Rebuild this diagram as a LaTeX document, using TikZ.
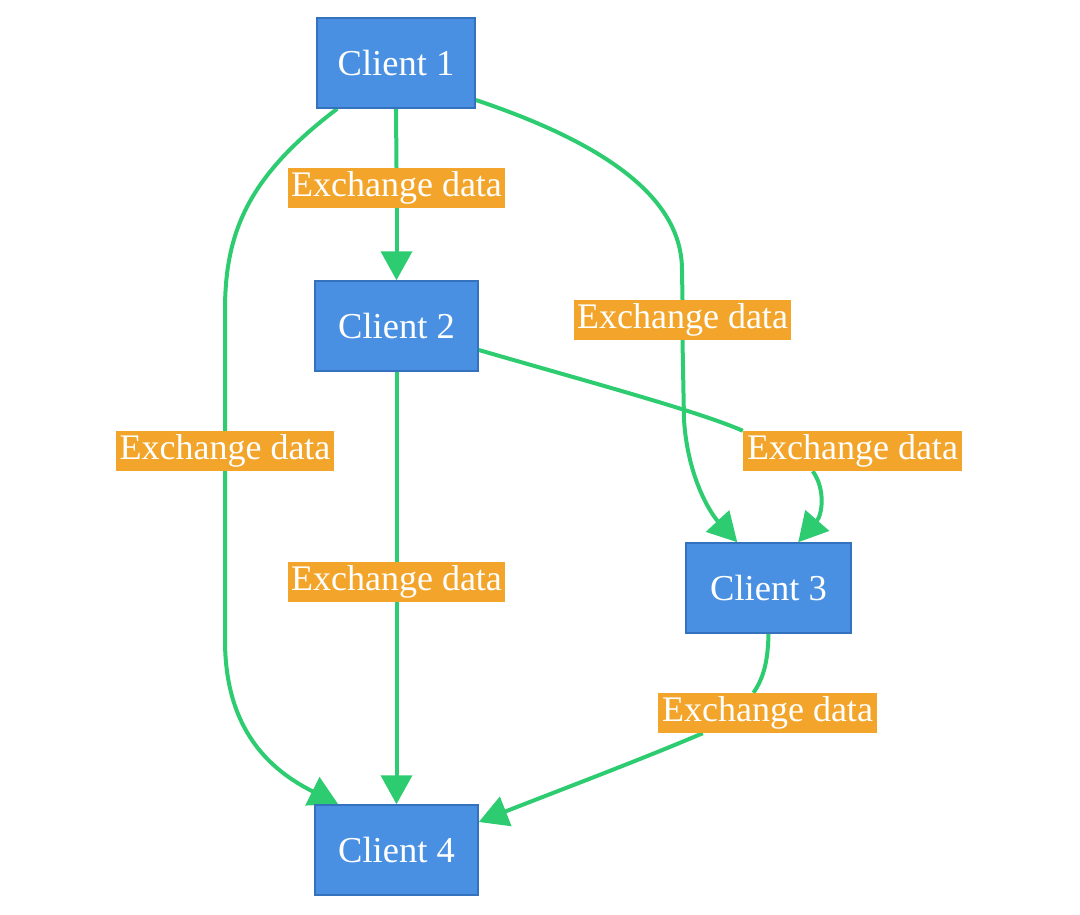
\documentclass[tikz,border=0pt]{standalone}
\usepackage{fontspec}
\setmainfont{Liberation Serif}
\usetikzlibrary{arrows.meta,calc}
\definecolor{boxblue}{HTML}{4A90E2}
\definecolor{boxedge}{HTML}{3572BD}
\definecolor{lblorange}{HTML}{F2A52A}
\definecolor{edgegreen}{HTML}{2ECC71}
\pgfdeclarelayer{bg}\pgfsetlayers{bg,main}
\begin{document}
\begin{tikzpicture}[x=1pt,y=-1pt,
  client/.style={draw=boxedge,line width=1.5pt,fill=boxblue,text=white,inner sep=0pt,
     minimum height=90pt,font=\fontsize{36.5}{40}\selectfont},
  lbl/.style={fill=lblorange,text=white,inner sep=0pt,minimum height=40pt,
     font=\fontsize{36}{40}\selectfont},
  conn/.style={draw=edgegreen,line width=4pt},
  arr/.style={conn,-{Triangle[length=29pt,width=31pt]}}]
\useasboundingbox (0,0) rectangle (1080,915);
% clients
\node[client,minimum width=158pt] (c1) at (396,63) {Client 1};
\node[client,minimum width=163pt] (c2) at (396.5,326) {Client 2};
\node[client,minimum width=165pt] (c3) at (768.5,588) {Client 3};
\node[client,minimum width=163pt] (c4) at (396.5,850) {Client 4};
% labels
\node[lbl,minimum width=217pt] (l12) at (396.5,188) {Exchange data};
\node[lbl,minimum width=217pt] (l13) at (682.5,320) {Exchange data};
\node[lbl,minimum width=218pt] (l14) at (225,451) {Exchange data};
\node[lbl,minimum width=217pt] (l24) at (396.5,582) {Exchange data};
\node[lbl,minimum width=219pt] (l23) at (852.5,451) {Exchange data};
\node[lbl,minimum width=219pt] (l34) at (767.5,713) {Exchange data};
% connectors (behind labels)
\begin{pgfonlayer}{bg}
% 1 -> 2
\draw[conn] (c1.south) -- (l12.north);
\draw[arr] (l12.south) -- (c2.north);
% 1 -> 4
\draw[conn] ($(c1.south west)+(21,0)$) .. controls (250,175) and (225,230) .. (225,310) -- (l14.north);
\draw[arr] (l14.south) -- (225,640) .. controls (225,730) and (270,770) .. ($(c4.north west)+(24,0)$);
% 1 -> 3
\draw[conn] ($(c1.east)+(0,37)$) .. controls (610,145) and (682,200) .. (682,270) -- (l13.north);
\draw[arr] (l13.south) -- (684,420) .. controls (688,480) and (712,515) .. ($(c3.north west)+(52,0)$);
% 2 -> 3
\draw[conn] ($(c2.east)+(0,24)$) .. controls (600,385) and (700,412) .. (l23.north west);
\draw[arr] ($(l23.south west)+(70,0)$) .. controls (826,490) and (822,515) .. ($(c3.north west)+(113,0)$);
% 2 -> 4
\draw[conn] (c2.south) -- (l24.north);
\draw[arr] (l24.south) -- (c4.north);
% 3 -> 4
\draw[conn] (c3.south) .. controls (768,665) and (762,680) .. ($(l34.north)+(-14,0)$);
\draw[arr] ($(l34.south west)+(45,0)$) .. controls (640,760) and (560,790) .. ($(c4.east)+(0,-28)$);
\end{pgfonlayer}
\end{tikzpicture}
\end{document}
